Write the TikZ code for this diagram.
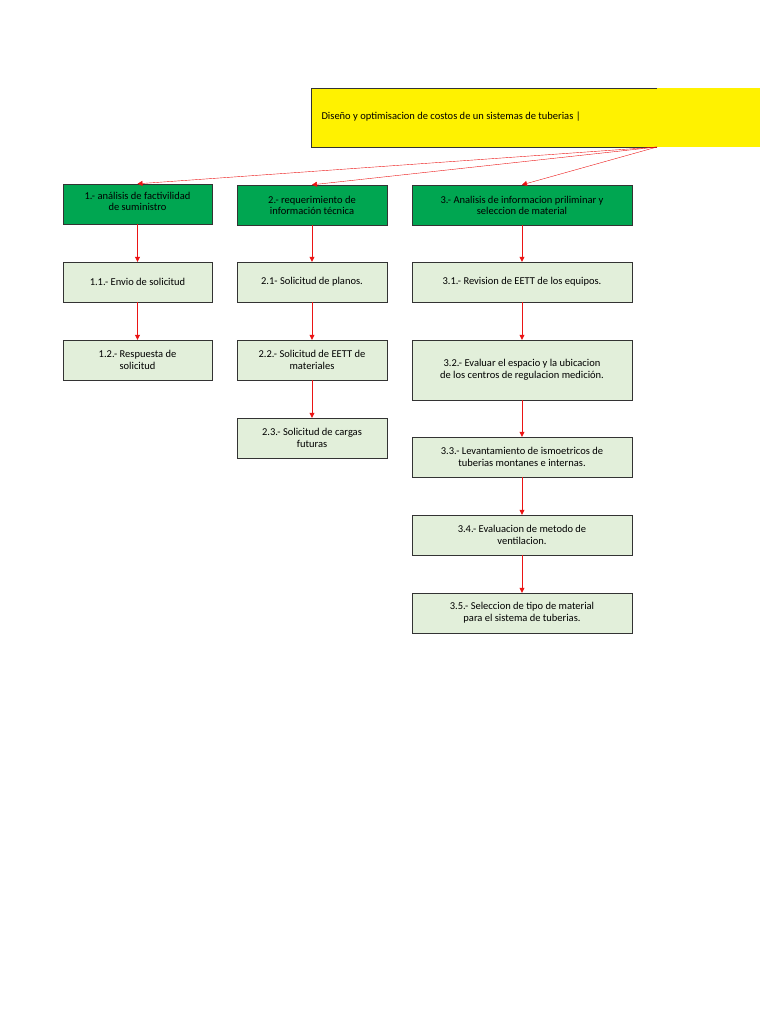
\documentclass[tikz,border=0pt]{standalone}
\usepackage{fontspec}
\setmainfont{Carlito}
\usetikzlibrary{arrows.meta}

\definecolor{boxgreen}{RGB}{0,166,81}
\definecolor{palegreen}{RGB}{226,239,218}
\definecolor{linkred}{RGB}{235,20,20}

\tikzset{
  phase/.style={draw=black!80, fill=boxgreen, align=center, inner sep=1pt, font=\fontsize{10.5}{11}\selectfont},
  task/.style={draw=black!80, fill=palegreen, align=center, inner sep=1pt, font=\fontsize{10.5}{12}\selectfont},
  link/.style={draw=linkred, -{Triangle[length=5pt,width=5pt]}}
}

\begin{document}
\begin{tikzpicture}[x=1pt, y=-1pt]
    \useasboundingbox (0,0) rectangle (768,1024);

    % title
    \fill[yellow] (311,88) rectangle (760,147);
    \draw[black!80] (657,88) -- (311,88) -- (311,147) -- (657,147);
    \node[anchor=west, font=\fontsize{10.5}{12}\selectfont] (title) at (318,117) {Diseño y optimisacion de costos de un sistemas de tuberias |};
    \coordinate (root) at (657,147);

    % phases
    \node[phase, minimum width=149pt, minimum height=40pt] (p1) at (137.5,204) {1.- análisis de factivilidad\\de suministro\\[-6pt]};
    \node[phase, minimum width=150pt, minimum height=40pt] (p2) at (312,205) {2.- requerimiento de\\información técnica};
    \node[phase, minimum width=220pt, minimum height=40pt] (p3) at (522,205) {3.- Analisis de informacion priliminar y\\seleccion de material};

    % tasks
    \node[task, minimum width=149pt, minimum height=40pt] (t11) at (137.5,282) {1.1.- Envio de solicitud};
    \node[task, minimum width=149pt, minimum height=40pt] (t12) at (137.5,360) {1.2.- Respuesta de\\solicitud};
    \node[task, minimum width=150pt, minimum height=40pt] (t21) at (312,282) {2.1- Solicitud de planos.};
    \node[task, minimum width=150pt, minimum height=40pt] (t22) at (312,360) {2.2.- Solicitud de EETT de\\materiales};
    \node[task, minimum width=150pt, minimum height=40pt] (t23) at (312,438) {2.3.- Solicitud de cargas\\futuras};
    \node[task, minimum width=220pt, minimum height=40pt] (t31) at (522,282) {3.1.- Revision de EETT de los equipos.};
    \node[task, minimum width=220pt, minimum height=60pt] (t32) at (522,370) {3.2.- Evaluar el espacio y la ubicacion\\de los centros de regulacion medición.};
    \node[task, minimum width=220pt, minimum height=40pt] (t33) at (522,457) {3.3.- Levantamiento de ismoetricos de\\tuberias montanes e internas.};
    \node[task, minimum width=220pt, minimum height=40pt] (t34) at (522,535) {3.4.- Evaluacion de metodo de\\ventilacion.};
    \node[task, minimum width=220pt, minimum height=40pt] (t35) at (522,613) {3.5.- Seleccion de tipo de material\\para el sistema de tuberias.};

    % links
    \draw[link] (root) -- (p1.north);
    \draw[link] (root) -- (p2.north);
    \draw[link] (root) -- (p3.north);
    \draw[link] (p1) -- (t11);
    \draw[link] (t11) -- (t12);
    \draw[link] (p2) -- (t21);
    \draw[link] (t21) -- (t22);
    \draw[link] (t22) -- (t23);
    \draw[link] (p3) -- (t31);
    \draw[link] (t31) -- (t32);
    \draw[link] (t32) -- (t33);
    \draw[link] (t33) -- (t34);
    \draw[link] (t34) -- (t35);
\end{tikzpicture}
\end{document}
